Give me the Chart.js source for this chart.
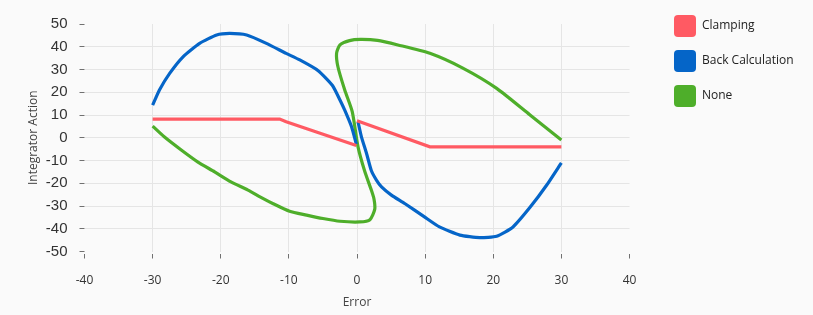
<!DOCTYPE html>
<html>
<head>
<meta charset="utf-8">
<script src="https://cdn.jsdelivr.net/npm/chart.js@4.4.1/dist/chart.umd.min.js"></script>
<style>
  body { margin: 0; background: #fafafa; }
  #wrap { width: 813px; height: 315px; position: relative; }
</style>
</head>
<body>
<div id="wrap"><canvas id="chart"></canvas></div>
<script>
// Dữ liệu: Error (x) và Integrator Action (y)
const clampX = [-30, -11.35, -10.4, -0.1, 0, 0, 10.7, 30];
const clampY = [8.2, 8.2, 7.0, -3.4, null, 7.5, -4.0, -4.0];

const backX = [-30, -29.0, -27.5, -25.5, -23.1, -20.6, -18.7, -16.2, -13.3, -10.4, -8.4, -5.7, -3.6, -2.5, -1.8, -0.8, -0.1,
               0, 0.15, 0.65, 1.4, 2.1, 2.85, 3.6, 5.05, 7.0, 9.9, 12.1, 15.1, 18.0, 20.5, 22.9, 25.4, 27.8, 30];
const backY = [14.3, 21.0, 28.3, 35.7, 41.5, 45.2, 45.9, 45.2, 41.5, 37.1, 34.2, 29.5, 23.0, 16.6, 12.1, 4.8, -2.8,
               null, 7.0, 0.4, -6.9, -14.4, -18.6, -21.6, -25.2, -28.9, -34.8, -39.2, -42.8, -43.9, -43.3, -39.2, -30.6, -21.0, -11.0];

const noneX = [-30, -28.3, -25.8, -23.4, -20.9, -18.5, -16.0, -14.1, -12.3, -9.9, -7.4, -5.0, -2.5, 0.4, 1.9, 2.6, 2.5, 2.1, 1.1,
               0.15, -0.7, -1.8, -2.8, -3.0, -2.5, -1.1, 0.5, 3.0, 6.0, 10.7, 15.6, 20.5, 25.4, 30];
const noneY = [5.1, 0.4, -5.4, -10.6, -15.0, -19.4, -23.0, -26.2, -29.0, -32.3, -34.0, -35.5, -36.7, -37.0, -36.0, -31.5, -27.0, -23.0, -14.4,
               -4.0, 11.5, 21.0, 31.2, 37.1, 40.8, 42.7, 43.2, 42.8, 40.8, 37.1, 30.5, 21.7, 10.0, -1.0];

const seriesNames = ["Clamping", "Back Calculation", "None"];
const seriesColors = ["#ff5a63", "#0565c8", "#4eae2a"];

const xTicks = [-40, -30, -20, -10, 0, 10, 20, 30, 40];
const yTicks = [-50, -40, -30, -20, -10, 0, 10, 20, 30, 40, 50];

// Ghép x, y thành điểm
function toPoints(xs, ys) {
  return xs.map((x, i) => ({ x: x, y: ys[i] }));
}

// Ẩn đường lưới ở hai mép
function edgeGrid(ctx) {
  const n = ctx.scale.ticks.length;
  return (ctx.index === 0 || ctx.index === n - 1) ? 'rgba(0,0,0,0)' : '#e5e5e5';
}

// Cố định bề rộng chú thích bên phải
const legendWidth = {
  id: 'legendWidth',
  beforeLayout(chart) {
    const lg = chart.legend;
    if (lg && !lg._wideFit) {
      const fit = lg.fit;
      lg.fit = function () { fit.call(this); this.width = 152; };
      lg._wideFit = true;
    }
  }
};

Chart.defaults.font.family = "'Open Sans', sans-serif";
Chart.defaults.font.size = 12;

const sets = [[clampX, clampY, 0], [backX, backY, 0.18], [noneX, noneY, 0.22]];

new Chart(document.getElementById('chart'), {
  type: 'scatter',
  plugins: [legendWidth],
  data: {
    datasets: sets.map((s, i) => ({
      label: seriesNames[i],
      data: toPoints(s[0], s[1]),
      showLine: true,
      borderColor: seriesColors[i],
      backgroundColor: seriesColors[i],
      borderWidth: 3.2,
      pointRadius: 0,
      pointHoverRadius: 0,
      tension: s[2],
      spanGaps: false
    }))
  },
  options: {
    responsive: true,
    maintainAspectRatio: false,
    animation: false,
    layout: { padding: { left: 21, top: 2, right: 0, bottom: 0 } },
    plugins: {
      tooltip: { enabled: false },
      legend: {
        position: 'right',
        align: 'start',
        labels: {
          boxWidth: 22,
          boxHeight: 22,
          padding: 13,
          color: '#222',
          useBorderRadius: true,
          borderRadius: 4,
          font: { size: 12 },
          generateLabels: chart =>
            Chart.defaults.plugins.legend.labels.generateLabels(chart).map(l => ({ ...l, lineWidth: 0 }))
        }
      }
    },
    scales: {
      x: {
        type: 'linear',
        min: xTicks[0],
        max: xTicks[xTicks.length - 1],
        afterBuildTicks: scale => { scale.ticks = xTicks.map(v => ({ value: v })); },
        afterFit: scale => { scale.height = 63.5; },
        border: { display: false },
        grid: {
          color: edgeGrid,
          tickColor: '#707070',
          tickLength: 7,
          tickBorderDash: [5, 2],
          tickBorderDashOffset: 5
        },
        ticks: { color: '#333', padding: 15, font: { size: 12 } },
        title: { display: true, text: 'Error', color: '#444', font: { size: 12 }, padding: { top: 8, bottom: 5 } }
      },
      y: {
        type: 'linear',
        min: yTicks[0],
        max: yTicks[yTicks.length - 1],
        afterBuildTicks: scale => { scale.ticks = yTicks.map(v => ({ value: v })); },
        afterFit: scale => { scale.width = 63.5; },
        border: { display: false },
        grid: {
          color: edgeGrid,
          tickColor: '#707070',
          tickLength: 7,
          tickBorderDash: [5, 2],
          tickBorderDashOffset: 5
        },
        ticks: { color: '#333', padding: 10, font: { family: "'Liberation Sans', Arial, sans-serif", size: 15 } },
        title: { display: true, text: 'Integrator Action', color: '#444', font: { size: 12 }, padding: { top: 5, bottom: 5 } }
      },
      // trục phụ chỉ để giữ khoảng trống trên và phải
      xTop: {
        type: 'linear',
        position: 'top',
        border: { display: false },
        grid: { display: false },
        ticks: { display: false },
        afterFit: scale => { scale.height = 22; }
      },
      yRight: {
        type: 'linear',
        position: 'right',
        border: { display: false },
        grid: { display: false },
        ticks: { display: false },
        afterFit: scale => { scale.width = 31.5; }
      }
    }
  }
});
</script>
</body>
</html>
